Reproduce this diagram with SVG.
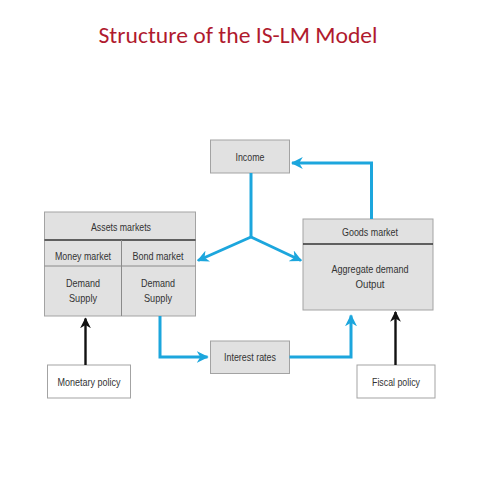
<svg xmlns="http://www.w3.org/2000/svg" width="480" height="480" viewBox="0 0 480 480">
<defs>
<style>
.box{fill:#e1e1e1;stroke:#a3a3a3;stroke-width:1}
.wbox{fill:#ffffff;stroke:#a3a3a3;stroke-width:1}
.sep{stroke:#333;stroke-width:1.6}
.div{stroke:#8a8a8a;stroke-width:1}
.t{font-family:"Liberation Sans",Arial,sans-serif;font-size:11.5px;fill:#333;text-anchor:middle;dominant-baseline:central}
.blue{fill:none;stroke:#1ca6dd;stroke-width:3}
.black{fill:none;stroke:#111;stroke-width:2.4}
</style>
<marker id="ab" viewBox="0 0 10 10" refX="9" refY="5" markerWidth="4" markerHeight="4" orient="auto" markerUnits="strokeWidth"><path d="M0,0 L10,5 L0,10 L3,5 z" fill="#1ca6dd"/></marker>
<marker id="ak" viewBox="0 0 10 10" refX="9" refY="5" markerWidth="4.5" markerHeight="4.5" orient="auto" markerUnits="strokeWidth"><path d="M0,0 L10,5 L0,10 L3,5 z" fill="#111"/></marker>
</defs>
<rect width="480" height="480" fill="#fff"/>
<text x="238" y="43" font-family="Carlito,'Open Sans','Noto Sans',sans-serif" font-size="23" fill="#b01a2e" text-anchor="middle" textLength="279" lengthAdjust="spacingAndGlyphs">Structure of the IS-LM Model</text>

<g id="income"><rect class="box" x="210.5" y="140" width="79" height="33"/><text class="t" x="250" y="156.5" textLength="29" lengthAdjust="spacingAndGlyphs">Income</text></g>

<g id="assets">
<rect class="box" x="44.5" y="212" width="151" height="104"/>
<line class="sep" x1="44.5" y1="240" x2="195.5" y2="240"/>
<line class="div" x1="44.5" y1="266" x2="195.5" y2="266"/>
<line class="div" x1="121.5" y1="240" x2="121.5" y2="316"/>
<text class="t" x="121" y="226.5" textLength="60" lengthAdjust="spacingAndGlyphs">Assets markets</text>
<text class="t" x="83" y="255.5" textLength="56" lengthAdjust="spacingAndGlyphs">Money market</text>
<text class="t" x="158" y="255.5" textLength="51" lengthAdjust="spacingAndGlyphs">Bond market</text>
<text class="t" x="83" y="283" textLength="34" lengthAdjust="spacingAndGlyphs">Demand</text><text class="t" x="83" y="297.5" textLength="28" lengthAdjust="spacingAndGlyphs">Supply</text>
<text class="t" x="158" y="283" textLength="34" lengthAdjust="spacingAndGlyphs">Demand</text><text class="t" x="158" y="297.5" textLength="28" lengthAdjust="spacingAndGlyphs">Supply</text>
</g>

<g id="goods">
<rect class="box" x="303" y="219" width="130" height="91"/>
<line class="sep" x1="303" y1="244" x2="433" y2="244"/>
<text class="t" x="370" y="231.5" textLength="56" lengthAdjust="spacingAndGlyphs">Goods market</text>
<text class="t" x="370" y="268.5" textLength="77" lengthAdjust="spacingAndGlyphs">Aggregate demand</text>
<text class="t" x="370" y="284" textLength="29" lengthAdjust="spacingAndGlyphs">Output</text>
</g>

<g id="interest"><rect class="box" x="210.5" y="341" width="79" height="32.5"/><text class="t" x="250" y="357" textLength="52" lengthAdjust="spacingAndGlyphs">Interest rates</text></g>
<g id="monetary"><rect class="wbox" x="47.5" y="365" width="83" height="33"/><text class="t" x="89" y="382" textLength="63" lengthAdjust="spacingAndGlyphs">Monetary policy</text></g>
<g id="fiscal"><rect class="wbox" x="357" y="365" width="78" height="33"/><text class="t" x="396" y="382" textLength="48" lengthAdjust="spacingAndGlyphs">Fiscal policy</text></g>

<g id="connectors">
<polyline class="blue" points="251,173 251,237"/>
<line class="blue" x1="251" y1="237" x2="198" y2="260.5" marker-end="url(#ab)"/>
<line class="blue" x1="251" y1="237" x2="301" y2="260.5" marker-end="url(#ab)"/>
<polyline class="blue" points="371.5,219 371.5,163 292,163" marker-end="url(#ab)"/>
<polyline class="blue" points="160,316 160,357 207.5,357" marker-end="url(#ab)"/>
<polyline class="blue" points="289.5,357 351,357 351,315.5" marker-end="url(#ab)"/>
<line class="black" x1="85.5" y1="365" x2="85.5" y2="318.5" marker-end="url(#ak)"/>
<line class="black" x1="395.5" y1="365" x2="395.5" y2="312" marker-end="url(#ak)"/>
</g>
</svg>
